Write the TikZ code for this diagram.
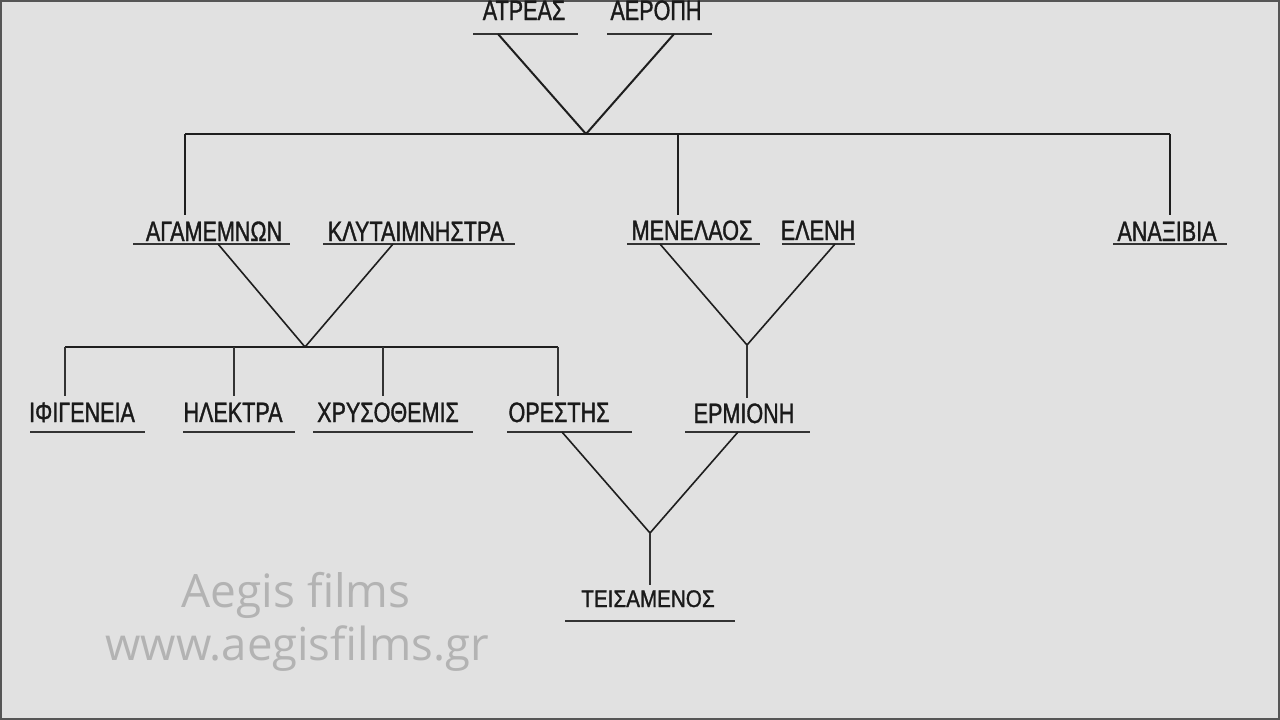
\documentclass[tikz,border=0pt]{standalone}
\usepackage{fontspec}
\newfontfamily\grk[FakeStretch=0.77,FakeBold=1.2]{Liberation Sans}
\newfontfamily\grksm[FakeStretch=0.86,FakeBold=1.2]{Liberation Sans}
\newfontfamily\wmfont{Open Sans}
\definecolor{bgc}{HTML}{E1E1E1}
\definecolor{framec}{HTML}{555555}
\definecolor{textc}{HTML}{1A1A1A}
\definecolor{linec}{HTML}{1E1E1E}
\definecolor{ulc}{HTML}{333333}
\definecolor{wmc}{HTML}{B3B3B3}
\tikzset{
  nm/.style={font=\grk\fontsize{28}{30}\selectfont, text=textc, inner sep=0pt, anchor=base},
  nmsm/.style={font=\grksm\fontsize{24}{26}\selectfont, text=textc, inner sep=0pt, anchor=base},
  ul/.style={draw=ulc, line width=2pt},
  conA/.style={draw=linec, line width=2.8pt},
  conAd/.style={draw=linec, line width=2pt},
  conB/.style={draw=linec, line width=1.6pt},
  conC/.style={draw=ulc, line width=1.3pt},
  wm/.style={font=\wmfont\fontsize{46}{50}\selectfont, text=wmc, inner sep=0pt, anchor=base},
  wmb/.style={font=\wmfont\fontsize{45.5}{50}\selectfont, text=wmc, inner sep=0pt, anchor=base}
}
\begin{document}
\begin{tikzpicture}[x=1pt,y=-1pt]
\fill[bgc] (0,0) rectangle (1280,720);
\useasboundingbox (0,0) rectangle (1280,720);
\draw[framec, line width=2pt] (1,1) rectangle (1279,719);

% ---------- generation 1
\node[nm] (atreas) at (524,20) {ΑΤΡΕΑΣ};
\node[nm] (aeropi) at (656,20) {ΑΕΡΟΠΗ};
\coordinate (atreasL) at (473,34); \coordinate (atreasR) at (578,34);
\coordinate (aeropiL) at (607,34); \coordinate (aeropiR) at (712,34);
\draw[ul] (atreasL) -- (atreasR);
\draw[ul] (aeropiL) -- (aeropiR);
\coordinate (atreasD) at (498,34);
\coordinate (aeropiD) at (674,34);
\coordinate (j1) at (586,134);
\draw[conAd] (atreasD) -- (j1);
\draw[conAd] (aeropiD) -- (j1);
\coordinate (h1L) at (185,134); \coordinate (h1R) at (1170,134);
\draw[conA] (h1L) -- (h1R);
\coordinate (agaU) at (185,215);
\coordinate (menU) at (678,215);
\coordinate (anaU) at (1170,215);
\coordinate (h1M) at (678,134);
\draw[conA] (h1L) -- (agaU);
\draw[conA] (h1M) -- (menU);
\draw[conA] (h1R) -- (anaU);

% ---------- generation 2
\node[nm] (agamemnon) at (214,241) {ΑΓΑΜΕΜΝΩΝ};
\node[nm] (klytaimnistra) at (416,241) {ΚΛΥΤΑΙΜΝΗΣΤΡΑ};
\node[nm] (menelaos) at (692,240) {ΜΕΝΕΛΑΟΣ};
\node[nm] (eleni) at (818,240) {ΕΛΕΝΗ};
\node[nm] (anaxibia) at (1167,241) {ΑΝΑΞΙΒΙΑ};
\draw[ul] (133,244) -- (290,244);
\draw[ul] (323,244) -- (515,244);
\draw[ul] (627,244) -- (760,244);
\draw[ul] (782,244) -- (855,244);
\draw[ul] (1113,244) -- (1227,244);
\coordinate (agaD) at (218,244);
\coordinate (klyD) at (393,244);
\coordinate (menD) at (660,244);
\coordinate (eleD) at (835,244);
\coordinate (j2) at (305,347);
\coordinate (j3) at (747,345);
\draw[conB] (agaD) -- (j2);
\draw[conB] (klyD) -- (j2);
\draw[conB] (menD) -- (j3);
\draw[conB] (eleD) -- (j3);
\coordinate (h2L) at (65,347); \coordinate (h2R) at (558,347);
\draw[conB] (h2L) -- (h2R);
\coordinate (h2a) at (234,347); \coordinate (h2b) at (383,347);
\coordinate (ifiU) at (65,396);
\coordinate (ilekU) at (234,396);
\coordinate (chrU) at (383,396);
\coordinate (oreU) at (558,396);
\coordinate (ermU) at (747,398);
\draw[conC] (h2L) -- (ifiU);
\draw[conC] (h2a) -- (ilekU);
\draw[conC] (h2b) -- (chrU);
\draw[conC] (h2R) -- (oreU);
\draw[conC] (j3) -- (ermU);

% ---------- generation 3
\node[nm] (ifigeneia) at (82,422) {ΙΦΙΓΕΝΕΙΑ};
\node[nm] (ilektra) at (233,422) {ΗΛΕΚΤΡΑ};
\node[nm] (chrysothemis) at (388,422) {ΧΡΥΣΟΘΕΜΙΣ};
\node[nm] (orestis) at (559,422) {ΟΡΕΣΤΗΣ};
\node[nm] (ermioni) at (744,423) {ΕΡΜΙΟΝΗ};
\draw[ul] (30,432) -- (145,432);
\draw[ul] (183,432) -- (295,432);
\draw[ul] (313,432) -- (473,432);
\draw[ul] (507,432) -- (632,432);
\draw[ul] (685,432) -- (810,432);
\coordinate (oreD) at (562,432);
\coordinate (ermD) at (738,432);
\coordinate (j4) at (650,533);
\draw[conB] (oreD) -- (j4);
\draw[conB] (ermD) -- (j4);
\coordinate (teiU) at (650,585);
\draw[conC] (j4) -- (teiU);

% ---------- generation 4
\node[nmsm] (teisamenos) at (648,607) {ΤΕΙΣΑΜΕΝΟΣ};
\draw[ul] (565,621) -- (735,621);

% ---------- watermark
\node[wm] (wm1) at (296,607) {Aegis films};
\node[wmb] (wm2) at (297,660) {www.aegisfilms.gr};
\end{tikzpicture}
\end{document}
